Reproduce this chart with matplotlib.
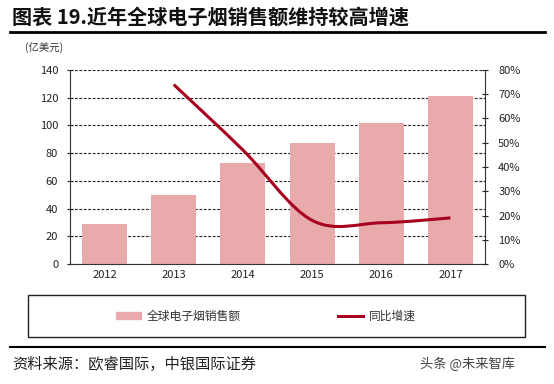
import matplotlib.pyplot as plt
from matplotlib.path import Path
from matplotlib.patches import PathPatch, Rectangle
from matplotlib.lines import Line2D
import numpy as np

plt.rcParams['font.family'] = ['Noto Sans CJK SC', 'DejaVu Sans']

years = ["2012", "2013", "2014", "2015", "2016", "2017"]
sales = [29, 50, 73, 87, 102, 121]          # 亿美元
growth = [None, 0.74, 0.47, 0.18, 0.17, 0.19]  # 同比增速

bar_color = "#E8AAAB"
line_color = "#A8001F"

fig = plt.figure(figsize=(5.54, 3.84), dpi=100)
ax = fig.add_axes([70 / 554, 1 - 264 / 384, 415 / 554, 194 / 384])
x = np.arange(len(years))
ax.bar(x, sales, width=0.65, color=bar_color, zorder=2)
ax.set_xlim(-0.5, len(years) - 0.5)
ax.set_ylim(0, 140)
ax.set_yticks(range(0, 141, 20))
ax.set_xticks(x)
ax.set_xticklabels(years)
ax.yaxis.grid(True, linestyle=(0, (2.5, 1.5)), color="#222222", linewidth=0.8, zorder=1)
ax.set_axisbelow(True)
for s in ["top", "right"]:
    ax.spines[s].set_visible(False)
ax.spines["left"].set_color("#333333")
ax.spines["bottom"].set_color("#333333")
ax.tick_params(axis="y", direction="inout", length=5, labelsize=8, colors="#222222", pad=6)
ax.tick_params(axis="x", length=0, labelsize=8, colors="#222222", pad=4)

ax2 = ax.twinx()
ax2.set_ylim(0, 0.8)
ax2.set_yticks(np.arange(0, 0.81, 0.1))
ax2.set_yticklabels([f"{int(round(v * 100))}%" for v in np.arange(0, 0.81, 0.1)])
for s in ["top", "left", "bottom"]:
    ax2.spines[s].set_visible(False)
ax2.spines["right"].set_color("#333333")
ax2.tick_params(axis="y", direction="inout", length=5, labelsize=8, colors="#222222", pad=7)

# smoothed line (Excel-style bezier through the points)
pts = np.array([(xi, g) for xi, g in zip(x, growth) if g is not None], dtype=float)
verts = [tuple(pts[0])]
codes = [Path.MOVETO]
n = len(pts)
for i in range(n - 1):
    p0 = pts[max(i - 1, 0)]
    p1 = pts[i]
    p2 = pts[i + 1]
    p3 = pts[min(i + 2, n - 1)]
    c1 = p1 + (p2 - p0) / 6
    c2 = p2 - (p3 - p1) / 6
    verts += [tuple(c1), tuple(c2), tuple(p2)]
    codes += [Path.CURVE4] * 3
ax2.add_patch(PathPatch(Path(verts, codes), facecolor="none", edgecolor=line_color,
                        linewidth=2.2, capstyle="butt", zorder=3))

# title and decorations
fig.text(12 / 554, 1 - 17 / 384, "图表 19.近年全球电子烟销售额维持较高增速", fontsize=14.5,
         fontweight="bold", color="#111111", va="center", ha="left")
fig.add_artist(Line2D([10 / 554, 545 / 554], [1 - 32 / 384] * 2, color="black", linewidth=2))
fig.text(25 / 554, 1 - 48 / 384, "(亿美元)", fontsize=7.5, color="#333333", va="center")

fig.add_artist(Rectangle((28 / 554, 1 - 337 / 384), 497 / 554, 42 / 384, fill=False,
                         edgecolor="#222222", linewidth=1, transform=fig.transFigure))
handles = [Rectangle((0, 0), 1, 1, color=bar_color),
           Line2D([], [], color=line_color, linewidth=2.2)]
fig.legend(handles, ["全球电子烟销售额", "同比增速"], loc="center",
           bbox_to_anchor=(266 / 554, 1 - 316 / 384), ncol=2, frameon=False,
           fontsize=8.5, columnspacing=8.2, handlelength=2.1, handleheight=0.6,
           handletextpad=0.5, labelcolor="#333333")

fig.add_artist(Line2D([10 / 554, 545 / 554], [1 - 347 / 384] * 2, color="black", linewidth=1.5))
fig.text(12 / 554, 1 - 364 / 384, "资料来源：欧睿国际，中银国际证券", fontsize=11,
         style="italic", color="#222222", va="center")
fig.text(515 / 554, 1 - 364 / 384, "头条 @未来智库", fontsize=9.5, color="#444444",
         va="center", ha="right")

fig.savefig("out.png", dpi=100)
